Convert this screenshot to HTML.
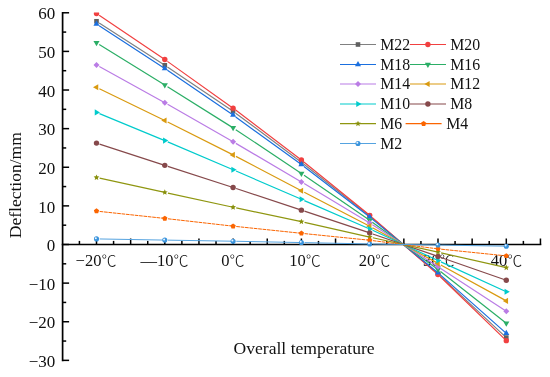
<!DOCTYPE html>
<html><head><meta charset="utf-8"><title>Deflection vs overall temperature</title>
<style>html,body{margin:0;padding:0;background:#fff}svg{display:block}text{font-family:"Liberation Serif","Noto Serif CJK SC",serif;fill:#111}text.xl{font-family:"Liberation Serif","Noto Sans CJK SC",serif;font-weight:300}</style></head><body>
<svg width="550" height="377" viewBox="0 0 550 377">
<rect width="550" height="377" fill="#fff"/>
<g stroke="#000" stroke-width="1.7" fill="none" stroke-linecap="butt">
<path d="M62.60,11.93V361.21"/>
<path d="M61.75,244.50H541.30"/>
</g>
<g stroke="#000" stroke-width="1.5" fill="none">
<path d="M62.60,360.36h6.5"/>
<path d="M62.60,341.05h3.6"/>
<path d="M62.60,321.74h6.5"/>
<path d="M62.60,302.43h3.6"/>
<path d="M62.60,283.12h6.5"/>
<path d="M62.60,263.81h3.6"/>
<path d="M62.60,244.50h6.5"/>
<path d="M62.60,225.19h3.6"/>
<path d="M62.60,205.88h6.5"/>
<path d="M62.60,186.57h3.6"/>
<path d="M62.60,167.26h6.5"/>
<path d="M62.60,147.95h3.6"/>
<path d="M62.60,128.64h6.5"/>
<path d="M62.60,109.33h3.6"/>
<path d="M62.60,90.02h6.5"/>
<path d="M62.60,70.71h3.6"/>
<path d="M62.60,51.40h6.5"/>
<path d="M62.60,32.09h3.6"/>
<path d="M62.60,12.78h6.5"/>
<path d="M79.42,244.50v-3.6"/>
<path d="M96.50,244.50v-6.0"/>
<path d="M113.58,244.50v-3.6"/>
<path d="M130.65,244.50v-6.0"/>
<path d="M147.72,244.50v-3.6"/>
<path d="M164.80,244.50v-6.0"/>
<path d="M181.88,244.50v-3.6"/>
<path d="M198.95,244.50v-6.0"/>
<path d="M216.02,244.50v-3.6"/>
<path d="M233.10,244.50v-6.0"/>
<path d="M250.17,244.50v-3.6"/>
<path d="M267.25,244.50v-6.0"/>
<path d="M284.32,244.50v-3.6"/>
<path d="M301.40,244.50v-6.0"/>
<path d="M318.48,244.50v-3.6"/>
<path d="M335.55,244.50v-6.0"/>
<path d="M352.62,244.50v-3.6"/>
<path d="M369.70,244.50v-6.0"/>
<path d="M386.77,244.50v-3.6"/>
<path d="M403.85,244.50v-6.0"/>
<path d="M420.93,244.50v-3.6"/>
<path d="M438.00,244.50v-6.0"/>
<path d="M455.07,244.50v-3.6"/>
<path d="M472.15,244.50v-6.0"/>
<path d="M489.22,244.50v-3.6"/>
<path d="M506.30,244.50v-6.0"/>
<path d="M523.38,244.50v-3.6"/>
<path d="M540.45,244.50v-6.0"/>
</g>
<g font-size="17px">
<text x="55.3" y="367.06" text-anchor="end">−30</text>
<text x="55.3" y="328.44" text-anchor="end">−20</text>
<text x="55.3" y="289.82" text-anchor="end">−10</text>
<text x="55.3" y="251.20" text-anchor="end">0</text>
<text x="55.3" y="212.58" text-anchor="end">10</text>
<text x="55.3" y="173.96" text-anchor="end">20</text>
<text x="55.3" y="135.34" text-anchor="end">30</text>
<text x="55.3" y="96.72" text-anchor="end">40</text>
<text x="55.3" y="58.10" text-anchor="end">50</text>
<text x="55.3" y="19.48" text-anchor="end">60</text>
<text class="xl" font-size="16.5px" x="75.6" y="265.8">−20<tspan font-size="15px" dy="-0.3">℃</tspan></text>
<text class="xl" font-size="16.5px" x="140.5" y="265.8">—10<tspan font-size="15px" dy="-0.3">℃</tspan></text>
<text class="xl" font-size="16.5px" x="221.2" y="265.8">0<tspan font-size="15px" dy="-0.3">℃</tspan></text>
<text class="xl" font-size="16.5px" x="289.3" y="265.8">10<tspan font-size="15px" dy="-0.3">℃</tspan></text>
<text class="xl" font-size="16.5px" x="358.7" y="265.8">20<tspan font-size="15px" dy="-0.3">℃</tspan></text>
<text class="xl" font-size="16.5px" x="423.0" y="265.8">30<tspan font-size="15px" dy="-0.3">℃</tspan></text>
<text class="xl" font-size="16.5px" x="490.7" y="265.8">40<tspan font-size="15px" dy="-0.3">℃</tspan></text>
</g>
<text font-size="17.6px" x="233.5" y="353.5">Overall temperature</text>
<text font-size="17.5px" transform="translate(21,238.2) rotate(-90)">Deflection/mm</text>
<path d="M99.19,23.01L164.80,65.30M167.45,67.09L233.10,111.26M235.66,113.18L301.40,162.24M303.92,164.22L369.70,215.96M372.14,218.03L438.00,273.89M440.34,276.07L506.30,337.57" fill="none" stroke="#808080" stroke-width="1.2"/>
<rect x="94.20" y="18.98" width="4.60" height="4.60" fill="#606060"/>
<rect x="162.50" y="63.00" width="4.60" height="4.60" fill="#606060"/>
<rect x="230.80" y="108.96" width="4.60" height="4.60" fill="#606060"/>
<rect x="299.10" y="159.94" width="4.60" height="4.60" fill="#606060"/>
<rect x="367.40" y="213.66" width="4.60" height="4.60" fill="#606060"/>
<rect x="435.70" y="271.59" width="4.60" height="4.60" fill="#606060"/>
<rect x="504.00" y="335.27" width="4.60" height="4.60" fill="#606060"/>
<path d="M99.15,15.34L164.80,59.51M167.41,61.37L233.10,108.17M235.65,110.10L301.40,159.92M303.88,161.94L369.70,215.34M372.12,217.44L438.00,274.55M440.30,276.77L506.30,340.66" fill="none" stroke="#F14040" stroke-width="1.2"/>
<circle cx="96.50" cy="13.55" r="2.7" fill="#F14040"/>
<circle cx="164.80" cy="59.51" r="2.7" fill="#F14040"/>
<circle cx="233.10" cy="108.17" r="2.7" fill="#F14040"/>
<circle cx="301.40" cy="159.92" r="2.7" fill="#F14040"/>
<circle cx="369.70" cy="215.34" r="2.7" fill="#F14040"/>
<circle cx="438.00" cy="274.55" r="2.7" fill="#F14040"/>
<circle cx="506.30" cy="340.66" r="2.7" fill="#F14040"/>
<path d="M99.18,25.72L164.80,68.39M167.44,70.20L233.10,115.12M235.69,117.00L301.40,164.56M303.94,166.51L369.70,217.08M372.18,219.10L438.00,272.73M440.39,274.85L506.30,333.33" fill="none" stroke="#1A6FDF" stroke-width="1.2"/>
<polygon points="93.45,25.73 99.55,25.73 96.50,20.48" fill="#1A6FDF"/>
<polygon points="161.75,70.14 167.85,70.14 164.80,64.89" fill="#1A6FDF"/>
<polygon points="230.05,116.87 236.15,116.87 233.10,111.62" fill="#1A6FDF"/>
<polygon points="298.35,166.31 304.45,166.31 301.40,161.06" fill="#1A6FDF"/>
<polygon points="366.65,218.83 372.75,218.83 369.70,213.58" fill="#1A6FDF"/>
<polygon points="434.95,274.48 441.05,274.48 438.00,269.23" fill="#1A6FDF"/>
<polygon points="503.25,335.08 509.35,335.08 506.30,329.83" fill="#1A6FDF"/>
<path d="M99.22,44.40L164.80,85.00M167.51,86.70L233.10,127.87M235.76,129.64L301.40,173.44M304.04,175.25L369.70,220.29M372.30,222.15L438.00,269.45M440.51,271.43L506.30,323.28" fill="none" stroke="#2BAE66" stroke-width="1.2"/>
<polygon points="93.45,40.96 99.55,40.96 96.50,46.21" fill="#2BAE66"/>
<polygon points="161.75,83.25 167.85,83.25 164.80,88.50" fill="#2BAE66"/>
<polygon points="230.05,126.12 236.15,126.12 233.10,131.37" fill="#2BAE66"/>
<polygon points="298.35,171.69 304.45,171.69 301.40,176.94" fill="#2BAE66"/>
<polygon points="366.65,218.54 372.75,218.54 369.70,223.79" fill="#2BAE66"/>
<polygon points="434.95,267.70 441.05,267.70 438.00,272.95" fill="#2BAE66"/>
<polygon points="503.25,321.53 509.35,321.53 506.30,326.78" fill="#2BAE66"/>
<path d="M99.30,66.47L164.80,102.76M167.58,104.35L233.10,141.77M235.86,143.39L301.40,181.94M304.14,183.59L369.70,223.03M372.40,224.75L438.00,266.63M440.68,268.38L506.30,311.31" fill="none" stroke="#BA7CE5" stroke-width="1.2"/>
<polygon points="93.50,64.92 96.50,61.92 99.50,64.92 96.50,67.92" fill="#BA7CE5"/>
<polygon points="161.80,102.76 164.80,99.76 167.80,102.76 164.80,105.76" fill="#BA7CE5"/>
<polygon points="230.10,141.77 233.10,138.77 236.10,141.77 233.10,144.77" fill="#BA7CE5"/>
<polygon points="298.40,181.94 301.40,178.94 304.40,181.94 301.40,184.94" fill="#BA7CE5"/>
<polygon points="366.70,223.03 369.70,220.03 372.70,223.03 369.70,226.03" fill="#BA7CE5"/>
<polygon points="435.00,266.63 438.00,263.63 441.00,266.63 438.00,269.63" fill="#BA7CE5"/>
<polygon points="503.30,311.31 506.30,308.31 509.30,311.31 506.30,314.31" fill="#BA7CE5"/>
<path d="M99.38,88.72L164.80,120.53M167.66,121.97L233.10,154.90M235.93,156.39L301.40,190.82M304.24,192.29L369.70,226.16M372.51,227.69L438.00,263.39M440.81,264.93L506.30,300.89" fill="none" stroke="#D99A10" stroke-width="1.2"/>
<polygon points="98.25,84.27 98.25,90.37 93.00,87.32" fill="#D99A10"/>
<polygon points="166.55,117.48 166.55,123.58 161.30,120.53" fill="#D99A10"/>
<polygon points="234.85,151.85 234.85,157.95 229.60,154.90" fill="#D99A10"/>
<polygon points="303.15,187.77 303.15,193.87 297.90,190.82" fill="#D99A10"/>
<polygon points="371.45,223.11 371.45,229.21 366.20,226.16" fill="#D99A10"/>
<polygon points="439.75,260.34 439.75,266.44 434.50,263.39" fill="#D99A10"/>
<polygon points="508.05,297.84 508.05,303.94 502.80,300.89" fill="#D99A10"/>
<path d="M99.46,113.64L164.80,140.61M167.74,141.87L233.10,169.77M236.04,171.04L301.40,199.31M304.34,200.59L369.70,228.94M372.60,230.28L438.00,260.53M440.91,261.86L506.30,291.81" fill="none" stroke="#00CBCC" stroke-width="1.2"/>
<polygon points="94.75,109.37 94.75,115.47 100.00,112.42" fill="#00CBCC"/>
<polygon points="163.05,137.56 163.05,143.66 168.30,140.61" fill="#00CBCC"/>
<polygon points="231.35,166.72 231.35,172.82 236.60,169.77" fill="#00CBCC"/>
<polygon points="299.65,196.26 299.65,202.36 304.90,199.31" fill="#00CBCC"/>
<polygon points="367.95,225.89 367.95,231.99 373.20,228.94" fill="#00CBCC"/>
<polygon points="436.25,257.48 436.25,263.58 441.50,260.53" fill="#00CBCC"/>
<polygon points="504.55,288.76 504.55,294.86 509.80,291.81" fill="#00CBCC"/>
<path d="M99.54,144.11L164.80,165.33M167.84,166.32L233.10,187.54M236.14,188.54L301.40,210.13M304.44,211.14L369.70,232.91M372.73,233.96L438.00,256.43M441.02,257.49L506.30,280.22" fill="none" stroke="#86494B" stroke-width="1.2"/>
<circle cx="96.50" cy="143.12" r="2.7" fill="#86494B"/>
<circle cx="164.80" cy="165.33" r="2.7" fill="#86494B"/>
<circle cx="233.10" cy="187.54" r="2.7" fill="#86494B"/>
<circle cx="301.40" cy="210.13" r="2.7" fill="#86494B"/>
<circle cx="369.70" cy="232.91" r="2.7" fill="#86494B"/>
<circle cx="438.00" cy="256.43" r="2.7" fill="#86494B"/>
<circle cx="506.30" cy="280.22" r="2.7" fill="#86494B"/>
<path d="M99.63,178.17L164.80,192.36M167.93,193.04L233.10,207.23M236.23,207.90L301.40,221.71M304.52,222.42L369.70,237.08M372.82,237.77L438.00,252.15M441.12,252.86L506.30,267.67" fill="none" stroke="#8F9610" stroke-width="1.2"/>
<polygon points="96.50,174.44 97.32,176.36 99.40,176.55 97.83,177.93 98.29,179.96 96.50,178.89 94.71,179.96 95.17,177.93 93.60,176.55 95.68,176.36" fill="#88900C"/>
<polygon points="164.80,189.31 165.62,191.23 167.70,191.42 166.13,192.80 166.59,194.83 164.80,193.76 163.01,194.83 163.47,192.80 161.90,191.42 163.98,191.23" fill="#88900C"/>
<polygon points="233.10,204.18 233.92,206.10 236.00,206.29 234.43,207.66 234.89,209.70 233.10,208.63 231.31,209.70 231.77,207.66 230.20,206.29 232.28,206.10" fill="#88900C"/>
<polygon points="301.40,218.66 302.22,220.58 304.30,220.77 302.73,222.15 303.19,224.18 301.40,223.11 299.61,224.18 300.07,222.15 298.50,220.77 300.58,220.58" fill="#88900C"/>
<polygon points="369.70,234.03 370.52,235.95 372.60,236.14 371.03,237.52 371.49,239.55 369.70,238.48 367.91,239.55 368.37,237.52 366.80,236.14 368.88,235.95" fill="#88900C"/>
<polygon points="438.00,249.10 438.82,251.01 440.90,251.20 439.33,252.58 439.79,254.61 438.00,253.55 436.21,254.61 436.67,252.58 435.10,251.20 437.18,251.01" fill="#88900C"/>
<polygon points="506.30,264.62 507.12,266.54 509.20,266.73 507.63,268.10 508.09,270.14 506.30,269.07 504.51,270.14 504.97,268.10 503.40,266.73 505.48,266.54" fill="#88900C"/>
<path d="M99.68,211.44L164.80,218.43M167.98,218.79L233.10,226.16M236.28,226.49L301.40,233.30M304.58,233.62L369.70,240.25M372.87,240.65L438.00,248.86M441.18,249.19L506.30,255.89" fill="none" stroke="#FB6501" stroke-width="1.0" stroke-dasharray="3.7 0.7"/>
<polygon points="96.50,208.34 99.12,210.24 98.12,213.32 94.88,213.32 93.88,210.24" fill="#FB6501"/>
<polygon points="164.80,215.68 167.42,217.58 166.42,220.66 163.18,220.66 162.18,217.58" fill="#FB6501"/>
<polygon points="233.10,223.41 235.72,225.31 234.72,228.38 231.48,228.38 230.48,225.31" fill="#FB6501"/>
<polygon points="301.40,230.55 304.02,232.45 303.02,235.52 299.78,235.52 298.78,232.45" fill="#FB6501"/>
<polygon points="369.70,237.50 372.32,239.40 371.32,242.48 368.08,242.48 367.08,239.40" fill="#FB6501"/>
<polygon points="438.00,246.11 440.62,248.01 439.62,251.09 436.38,251.09 435.38,248.01" fill="#FB6501"/>
<polygon points="506.30,253.14 508.92,255.04 507.92,258.12 504.68,258.12 503.68,255.04" fill="#FB6501"/>
<path d="M99.70,238.96L164.80,240.10M168.00,240.15L233.10,241.22M236.30,241.28L301.40,242.57M304.60,242.63L369.70,243.96M372.90,244.01L438.00,245.04M441.20,245.09L506.30,246.20" fill="none" stroke="#55A3E0" stroke-width="1.0"/>
<circle cx="96.50" cy="238.90" r="2.55" fill="#3993DC"/><circle cx="95.80" cy="238.20" r="1.0" fill="#e9f4ff"/>
<circle cx="164.80" cy="240.10" r="2.55" fill="#3993DC"/><circle cx="164.10" cy="239.40" r="1.0" fill="#e9f4ff"/>
<circle cx="233.10" cy="241.22" r="2.55" fill="#3993DC"/><circle cx="232.40" cy="240.52" r="1.0" fill="#e9f4ff"/>
<circle cx="301.40" cy="242.57" r="2.55" fill="#3993DC"/><circle cx="300.70" cy="241.87" r="1.0" fill="#e9f4ff"/>
<circle cx="369.70" cy="243.96" r="2.55" fill="#3993DC"/><circle cx="369.00" cy="243.26" r="1.0" fill="#e9f4ff"/>
<circle cx="438.00" cy="245.04" r="2.55" fill="#3993DC"/><circle cx="437.30" cy="244.34" r="1.0" fill="#e9f4ff"/>
<circle cx="506.30" cy="246.20" r="2.55" fill="#3993DC"/><circle cx="505.60" cy="245.50" r="1.0" fill="#e9f4ff"/>
<rect x="90" y="0" width="14" height="12.48" fill="#fff"/>
<g font-size="15.8px">
<path d="M340.0,44.5H376.0" stroke="#808080" stroke-width="1.2" fill="none"/>
<rect x="355.70" y="42.20" width="4.60" height="4.60" fill="#606060"/>
<text x="380.3" y="49.60">M22</text>
<path d="M409.8,44.5H446.0" stroke="#F14040" stroke-width="1.2" fill="none"/>
<circle cx="427.90" cy="44.50" r="2.7" fill="#F14040"/>
<text x="450.3" y="49.60">M20</text>
<path d="M340.0,64.5H376.0" stroke="#1A6FDF" stroke-width="1.2" fill="none"/>
<polygon points="354.95,66.25 361.05,66.25 358.00,61.00" fill="#1A6FDF"/>
<text x="380.3" y="69.60">M18</text>
<path d="M409.8,64.5H446.0" stroke="#2BAE66" stroke-width="1.2" fill="none"/>
<polygon points="424.85,62.75 430.95,62.75 427.90,68.00" fill="#2BAE66"/>
<text x="450.3" y="69.60">M16</text>
<path d="M340.0,84.0H376.0" stroke="#BA7CE5" stroke-width="1.2" fill="none"/>
<polygon points="355.00,84.00 358.00,81.00 361.00,84.00 358.00,87.00" fill="#BA7CE5"/>
<text x="380.3" y="89.10">M14</text>
<path d="M409.8,84.0H446.0" stroke="#D99A10" stroke-width="1.2" fill="none"/>
<polygon points="429.65,80.95 429.65,87.05 424.40,84.00" fill="#D99A10"/>
<text x="450.3" y="89.10">M12</text>
<path d="M340.0,104.0H376.0" stroke="#00CBCC" stroke-width="1.2" fill="none"/>
<polygon points="356.25,100.95 356.25,107.05 361.50,104.00" fill="#00CBCC"/>
<text x="380.3" y="109.10">M10</text>
<path d="M409.8,104.0H446.0" stroke="#86494B" stroke-width="1.2" fill="none"/>
<circle cx="427.90" cy="104.00" r="2.7" fill="#86494B"/>
<text x="450.3" y="109.10">M8</text>
<path d="M340.0,123.7H376.0" stroke="#8F9610" stroke-width="1.2" fill="none"/>
<polygon points="358.00,120.65 358.82,122.57 360.90,122.76 359.33,124.13 359.79,126.17 358.00,125.10 356.21,126.17 356.67,124.13 355.10,122.76 357.18,122.57" fill="#88900C"/>
<text x="380.3" y="128.80">M6</text>
<path d="M405.6,123.7H441.6" stroke="#FB6501" stroke-width="1.2" fill="none"/>
<polygon points="423.60,120.95 426.22,122.85 425.22,125.92 421.98,125.92 420.98,122.85" fill="#FB6501"/>
<text x="446.3" y="128.80">M4</text>
<path d="M340.0,143.5H376.0" stroke="#55A3E0" stroke-width="1.2" fill="none"/>
<circle cx="358.00" cy="143.50" r="2.55" fill="#3993DC"/><circle cx="357.30" cy="142.80" r="1.0" fill="#e9f4ff"/>
<text x="380.3" y="148.60">M2</text>
</g>
</svg></body></html>
